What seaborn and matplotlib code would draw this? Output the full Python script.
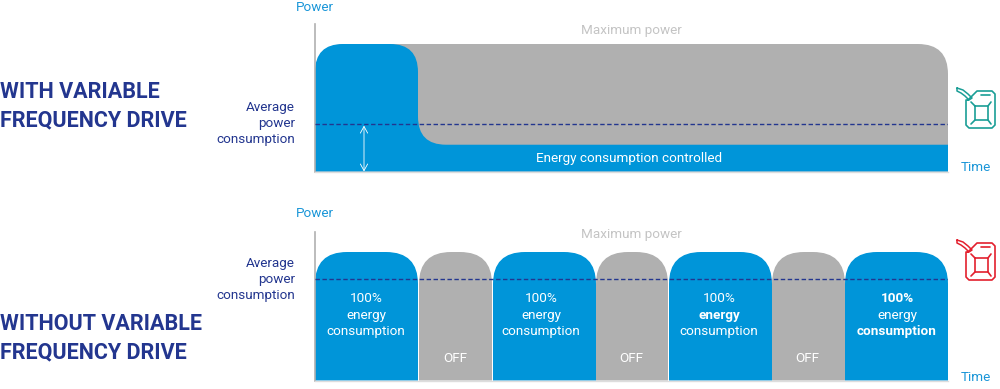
import matplotlib
matplotlib.use("Agg")
import matplotlib.pyplot as plt
import seaborn as sns
from matplotlib.path import Path
from matplotlib.patches import PathPatch

sns.set_theme(style="white")
plt.rcParams['font.family'] = ['Roboto', 'DejaVu Sans']
W, H = 1000, 389
BLUE, GREY, NAVY, SKY, LIGHT = "#0095d9", "#b0b0b0", "#23368f", "#1a96d8", "#c4c4c4"

# data: time in ticks (0-633), power in % of maximum
top_end = 633
top_blue_burst_end = 103
top_low_power = 21
top_average = 37
bottom_starts = [0, 104, 178, 281, 354, 457, 530]
bottom_ends = [103, 177, 281, 353, 457, 530, 633]
bottom_kinds = ["on", "off", "on", "off", "on", "off", "on"]
bottom_average = 79
max_power = 100
bar_lines = ["100%", "energy", "consumption"]
bar_weights = [["normal", "normal", "normal"], ["normal", "normal", "normal"],
               ["normal", "bold", "normal"], ["bold", "normal", "bold"]]
bar_label_x = [366, 541, 719, 897]
off_label_x = [455, 631, 807]

fig = plt.figure(figsize=(W / 100, H / 100), dpi=100)


def make_axes(y_bottom, y_top, y_max_px):
    ax = fig.add_axes([314.5 / W, 1 - y_bottom / H, (948 - 314.5) / W, (y_bottom - y_top) / H])
    ax.set_xlim(-0.5, top_end)
    ax.set_ylim(0, max_power * (y_bottom - y_top) / (y_bottom - y_max_px))
    ax.set_xticks([]); ax.set_yticks([])
    ax.patch.set_alpha(0)
    sns.despine(ax=ax)
    ax.spines["left"].set_color(GREY); ax.spines["left"].set_linewidth(1.2)
    ax.spines["bottom"].set_color("#dddddd"); ax.spines["bottom"].set_linewidth(1)
    return ax


def rounded(x0, x1, y0, y1, rx, ry):
    v = [(x0, y0), (x0, y1 - ry), (x0, y1), (x0 + rx, y1), (x1 - rx, y1), (x1, y1), (x1, y1 - ry), (x1, y0), (x0, y0)]
    c = [Path.MOVETO, Path.LINETO, Path.CURVE3, Path.CURVE3, Path.LINETO, Path.CURVE3, Path.CURVE3, Path.LINETO, Path.CLOSEPOLY]
    return Path(v, c)


# ---- top panel
ax1 = make_axes(171.5, 24, 44)
ryu = 100 / 127
ax1.add_patch(PathPatch(rounded(0, top_end, 0, max_power, 30, 30 * ryu), fc=GREY, lw=0))
rx, ry = 28, 28 * ryu
b = top_blue_burst_end
v = [(0, 0), (0, max_power - ry), (0, max_power), (rx, max_power), (b - rx, max_power), (b, max_power),
     (b, max_power - ry), (b, top_low_power + ry), (b, top_low_power), (b + rx, top_low_power),
     (top_end, top_low_power), (top_end, 0), (0, 0)]
c = [Path.MOVETO, Path.LINETO, Path.CURVE3, Path.CURVE3, Path.LINETO, Path.CURVE3, Path.CURVE3, Path.LINETO,
     Path.CURVE3, Path.CURVE3, Path.LINETO, Path.LINETO, Path.CLOSEPOLY]
ax1.add_patch(PathPatch(Path(v, c), fc=BLUE, lw=0))
sns.lineplot(x=[0, top_end], y=[top_average, top_average], ax=ax1, color=NAVY, lw=1, linestyle=(0, (3.2, 1.8)), zorder=5)
ax1.annotate("", xy=(49, 0), xytext=(49, top_average - 1),
             arrowprops=dict(arrowstyle="<->,head_width=0.22,head_length=0.4", color="white", lw=0.6, shrinkA=0, shrinkB=0), zorder=6)

# ---- bottom panel
ax2 = make_axes(380.5, 232, 252)
ryu = 100 / 128.5
for s, e, k in zip(bottom_starts, bottom_ends, bottom_kinds):
    ax2.add_patch(PathPatch(rounded(s, e, 0, max_power, 32, 32 * ryu), fc=BLUE if k == "on" else GREY, lw=0))
sns.lineplot(x=[0, top_end], y=[bottom_average, bottom_average], ax=ax2, color=NAVY, lw=1, linestyle=(0, (3.2, 1.8)), zorder=5)

# ---- text and icons in pixel space
ov = fig.add_axes([0, 0, 1, 1], zorder=10)
ov.set_xlim(0, W); ov.set_ylim(H, 0); ov.axis("off")


def t(x, y, s, color, size=9.7, ha="center", weight="normal"):
    ov.text(x, y, s, color=color, fontsize=size, ha=ha, va="center", fontweight=weight)


t(315, 7, "Power", SKY); t(315, 213, "Power", SKY)
for y in [30, 234]:
    t(631, y, "Maximum power", LIGHT)
t(975.5, 167.5, "Time", SKY); t(975.5, 377.5, "Time", SKY)
t(629.5, 158, "Energy consumption controlled", "white")
for y0 in [107, 264]:
    for i, s in enumerate(["Average", "power", "consumption"]):
        t(295, y0 + i * 16, s, NAVY, ha="right")
t(0, 92, "WITH VARIABLE", NAVY, size=15.5, ha="left", weight="bold")
t(0, 120, "FREQUENCY DRIVE", NAVY, size=15.5, ha="left", weight="bold")
t(0, 324, "WITHOUT VARIABLE", NAVY, size=15.5, ha="left", weight="bold")
t(0, 352, "FREQUENCY DRIVE", NAVY, size=15.5, ha="left", weight="bold")
for x, weights in zip(bar_label_x, bar_weights):
    for y, s, w in zip([298, 315, 331], bar_lines, weights):
        t(x, y, s, "white", ha="center", weight=w)
for x in off_label_x:
    t(x, 359, "OFF", "white")


def icon(dy, col):
    kw = dict(color=col, lw=1.2, solid_capstyle="round", solid_joinstyle="round")
    ov.plot([968, 977, 992, 995, 995, 992, 969, 966, 966, 968],
            [v + dy for v in [100, 91, 91, 94, 125, 128, 128, 125, 100, 100]], **kw)
    ov.plot([975, 988, 988, 975, 975], [v + dy for v in [106, 106, 120, 120, 106]], **kw)
    for xs, ys in [([975, 971], [106, 102]), ([988, 991], [106, 102]), ([975, 971], [120, 124]),
                   ([988, 991], [120, 124]), ([981, 990], [95, 95])]:
        ov.plot(xs, [v + dy for v in ys], **kw)
    ov.plot([957, 963, 968, 972, 969, 965, 961, 957, 957],
            [v + dy for v in [88, 90, 94, 98, 100, 96, 93, 91, 88]], color=col, lw=1.1)


icon(0, "#1a9e96")
icon(152, "#e3202e")
ov.set_xlim(0, W); ov.set_ylim(H, 0)
fig.savefig("out.png", dpi=100, facecolor="white")
